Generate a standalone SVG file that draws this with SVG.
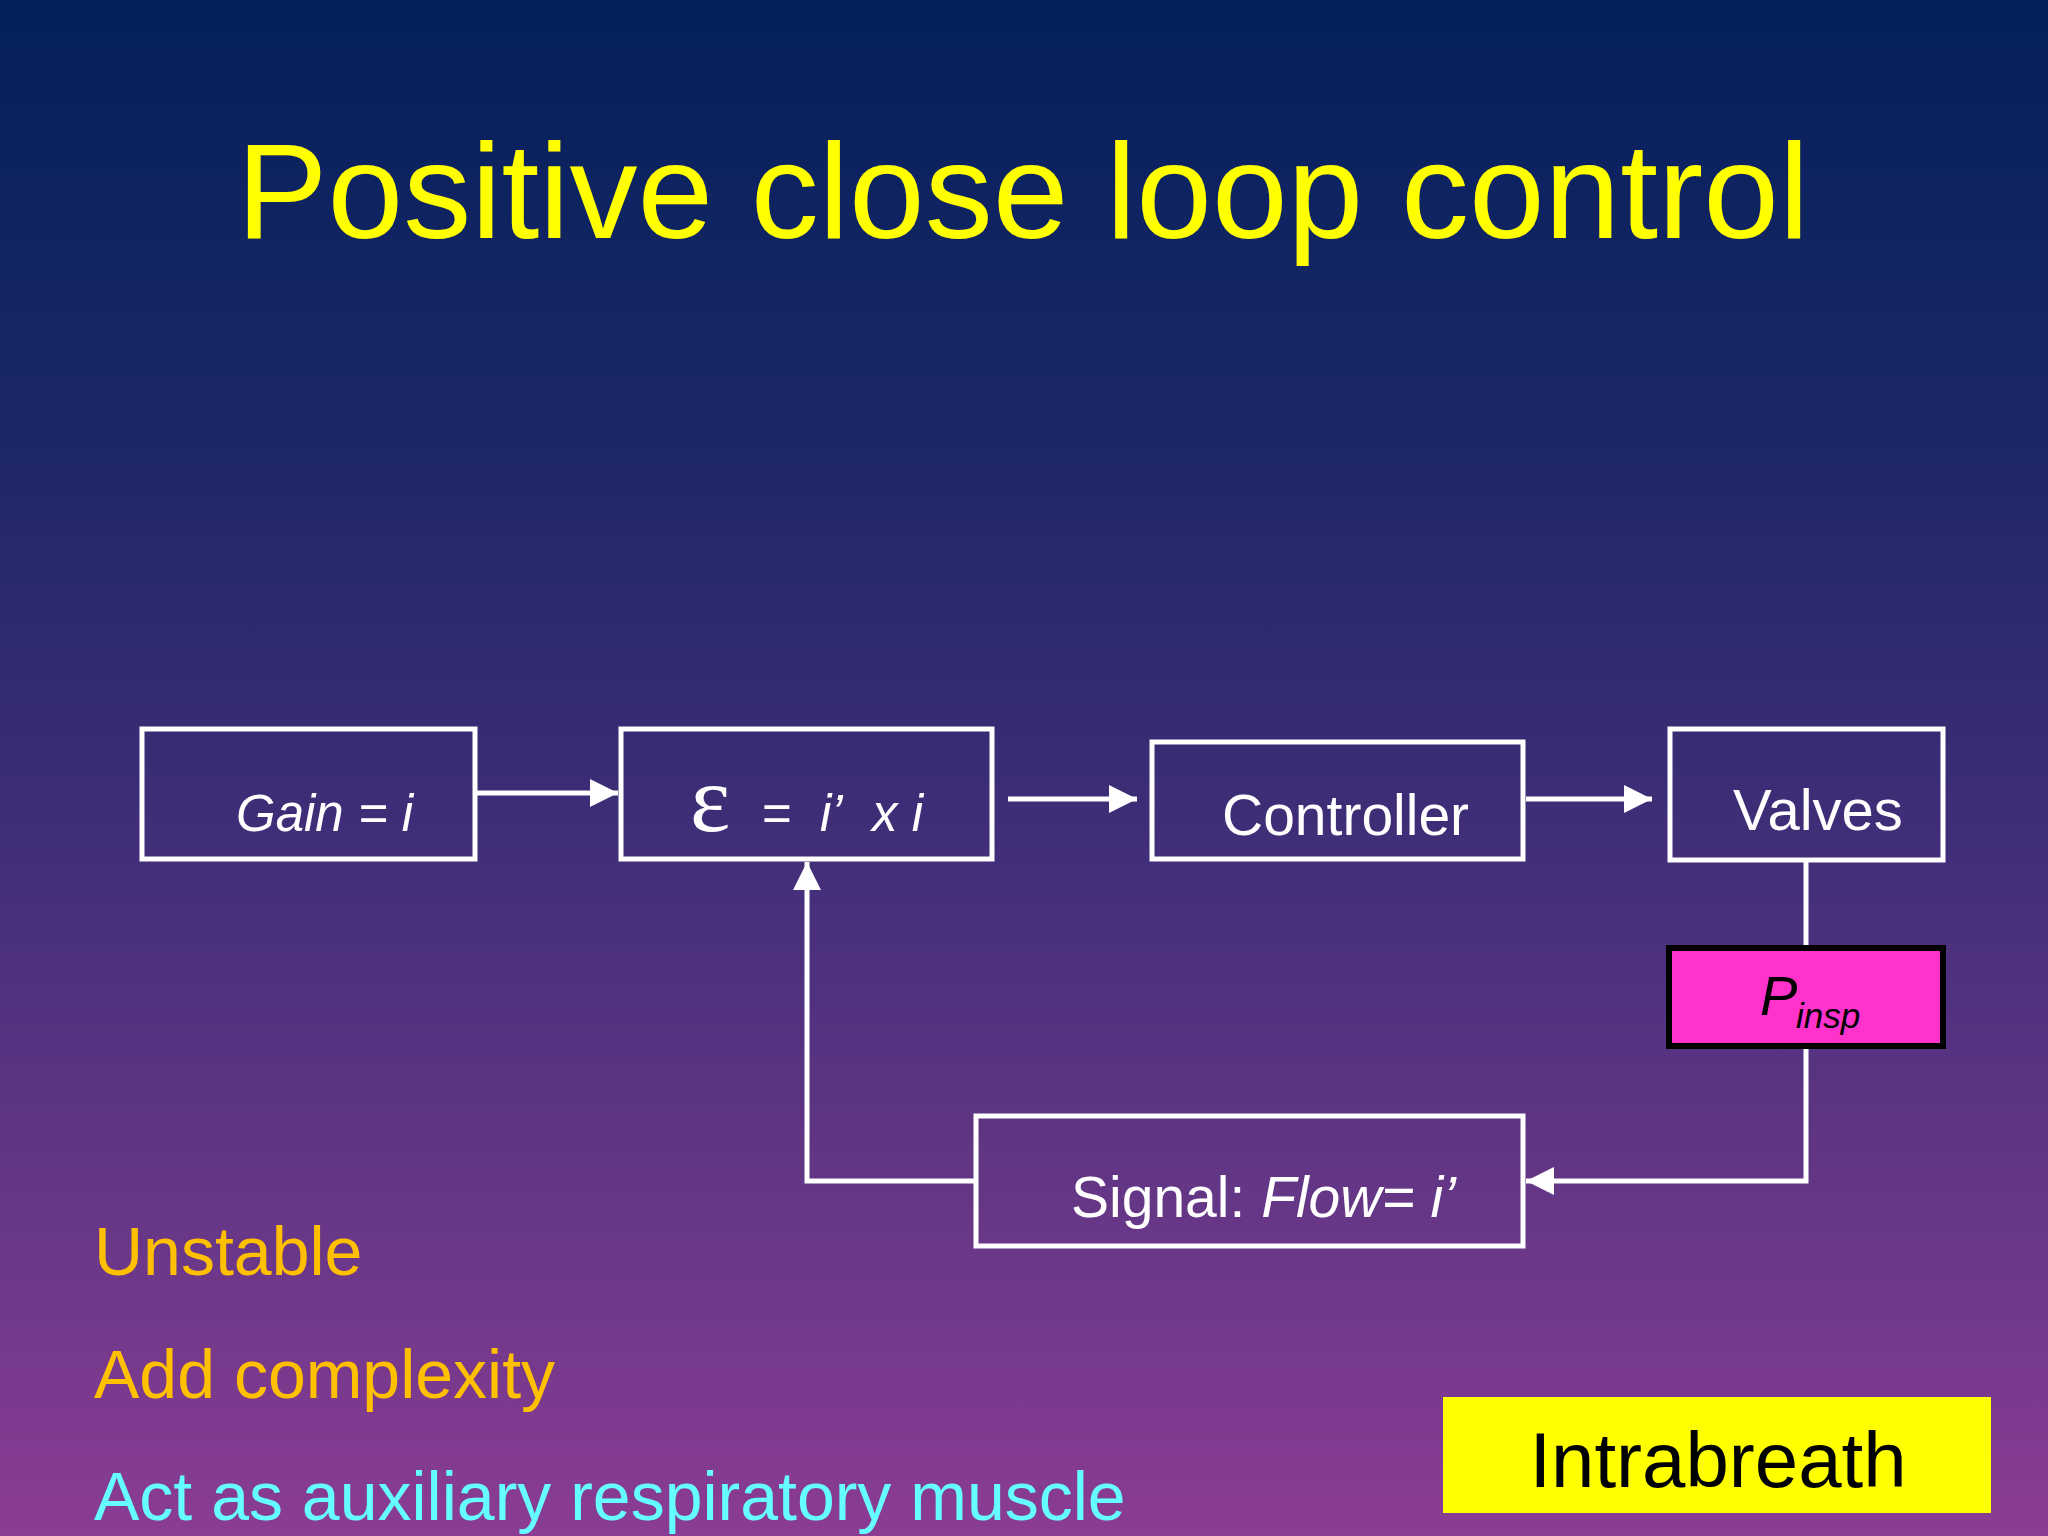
<svg xmlns="http://www.w3.org/2000/svg" width="2048" height="1536" viewBox="0 0 2048 1536">
<defs>
<linearGradient id="bg" x1="0" y1="0" x2="0" y2="1">
<stop offset="0" stop-color="#03205C"/>
<stop offset="0.3" stop-color="#1E2767"/>
<stop offset="0.55" stop-color="#412E78"/>
<stop offset="0.8" stop-color="#683787"/>
<stop offset="1" stop-color="#8B3C93"/>
</linearGradient>
<marker id="ah" viewBox="0 0 10 10" refX="10" refY="5" markerWidth="5.6" markerHeight="5.6" orient="auto" markerUnits="strokeWidth">
<path d="M0,0 L10,5 L0,10 Z" fill="#FFFFFF"/>
</marker>
<style>
.box{fill:none;stroke:#FFFFFF;stroke-width:5}
.lbl{font-family:"Liberation Sans",Arial,sans-serif;fill:#FFFFFF}
.it{font-style:italic}
.conn{fill:none;stroke:#FFFFFF;stroke-width:5}
.bul{font-family:"Liberation Sans",Arial,sans-serif;font-size:68px}
</style>
</defs>
<rect x="0" y="0" width="2048" height="1536" fill="url(#bg)"/>
<text x="1023" y="238" text-anchor="middle" font-family="'Liberation Sans',Arial,sans-serif" font-size="136" fill="#FFFF00">Positive close loop control</text>

<g id="connectors">
<line class="conn" x1="477" y1="793" x2="618" y2="793" marker-end="url(#ah)"/>
<line class="conn" x1="1008" y1="799" x2="1137" y2="799" marker-end="url(#ah)"/>
<line class="conn" x1="1526" y1="799" x2="1652" y2="799" marker-end="url(#ah)"/>
<polyline class="conn" points="1806,862 1806,946"/>
<polyline class="conn" points="1806,1048 1806,1181 1526,1181" marker-end="url(#ah)"/>
<polyline class="conn" points="974,1181 807,1181 807,862" marker-end="url(#ah)"/>
</g>

<g id="node-gain">
<rect class="box" x="142" y="729" width="333" height="130"/>
<text class="lbl it" x="236" y="831" font-size="51">Gain = i</text>
</g>
<g id="node-error">
<rect class="box" x="621" y="729" width="371" height="130"/>
<text class="lbl" y="831"><tspan x="690" font-family="'Liberation Serif',serif" font-size="96">ε</tspan><tspan x="762" font-size="51">=</tspan><tspan x="820" font-size="51" font-style="italic">i’</tspan><tspan x="872" font-size="51" font-style="italic">x i</tspan></text>
</g>
<g id="node-controller">
<rect class="box" x="1152" y="742" width="371" height="117"/>
<text class="lbl" x="1222" y="835" font-size="57">Controller</text>
</g>
<g id="node-valves">
<rect class="box" x="1670" y="729" width="273" height="131"/>
<text class="lbl" x="1733" y="830" font-size="58">Valves</text>
</g>
<g id="node-pinsp">
<rect x="1669" y="948" width="274" height="98" fill="#FF33CC" stroke="#000000" stroke-width="6"/>
<text font-family="'Liberation Sans',Arial,sans-serif" font-style="italic" fill="#000000"><tspan x="1760" y="1015" font-size="56">P</tspan><tspan x="1796" y="1028" font-size="35">insp</tspan></text>
</g>
<g id="node-signal">
<rect class="box" x="976" y="1116" width="547" height="130"/>
<text class="lbl" x="1071" y="1217" font-size="57">Signal: <tspan font-style="italic">Flow= i’</tspan></text>
</g>

<text class="bul" x="94" y="1275" fill="#FFC000">Unstable</text>
<text class="bul" x="94" y="1398" fill="#FFC000">Add complexity</text>
<text class="bul" x="94" y="1520" fill="#66FFFF">Act as auxiliary respiratory muscle</text>

<g id="node-intrabreath">
<rect x="1443" y="1397" width="548" height="116" fill="#FFFF00"/>
<text x="1718" y="1487" text-anchor="middle" font-family="'Liberation Sans',Arial,sans-serif" font-size="78" fill="#000000">Intrabreath</text>
</g>
</svg>
